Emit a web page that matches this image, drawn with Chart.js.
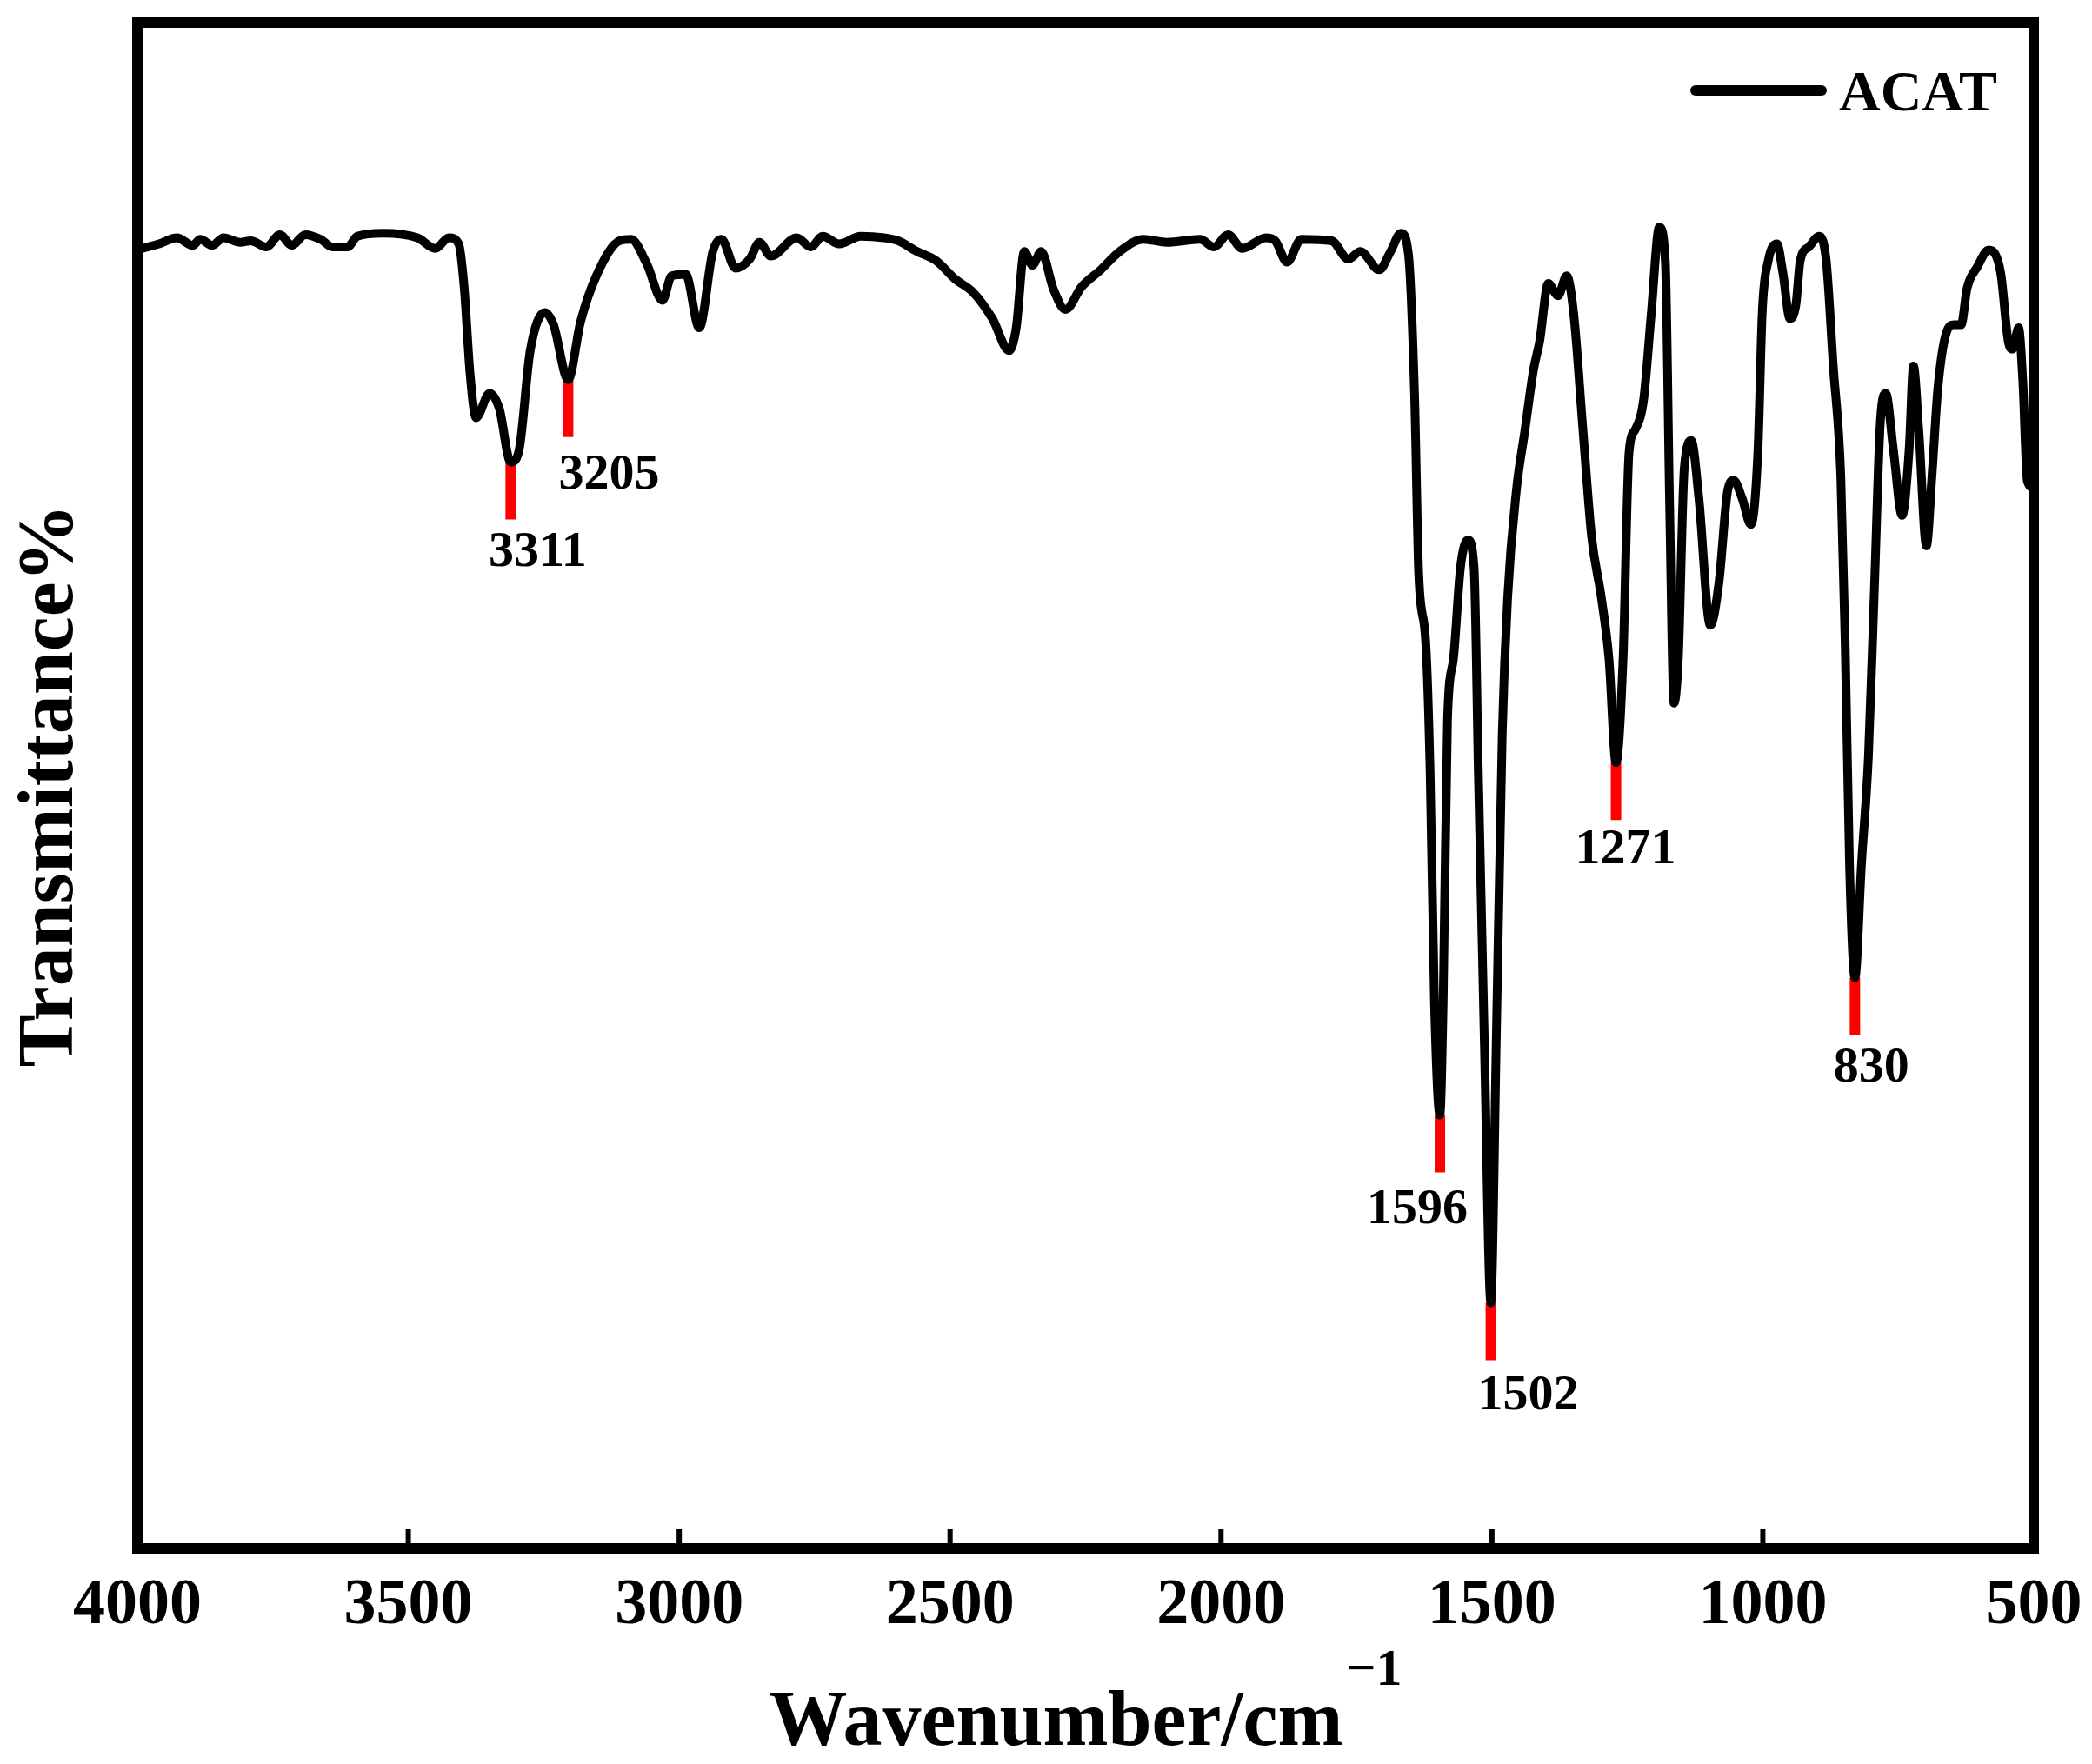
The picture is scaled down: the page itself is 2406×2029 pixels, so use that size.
<!DOCTYPE html>
<html>
<head>
<meta charset="utf-8">
<script src="https://cdn.jsdelivr.net/npm/chart.js@4.4.1/dist/chart.umd.min.js"></script>
<style>
  html, body { margin: 0; padding: 0; background: #ffffff; }
  #wrap { width: 2406px; height: 2029px; position: relative; }
</style>
</head>
<body>
<div id="wrap"><canvas id="c"></canvas></div>
<script>
// ---------------- DATA ----------------
const seriesName = 'ACAT';
const xTickValues = [4000, 3500, 3000, 2500, 2000, 1500, 1000, 500];
const xTickLabels = ['4000', '3500', '3000', '2500', '2000', '1500', '1000', '500'];

const wavenumbers = [
  4000, 3991, 3960, 3927, 3898, 3884, 3862, 3841, 3810, 3791, 3762, 3737, 3715, 3690, 3662, 3640, 3612, 3594, 3547, 3483,
  3450, 3425, 3407, 3397, 3386, 3375, 3350, 3332, 3311, 3296, 3275, 3248, 3232, 3205, 3182, 3153, 3110, 3089, 3060, 3031,
  3014, 2988, 2963, 2938, 2922, 2896, 2870, 2852, 2831, 2783, 2757, 2735, 2705, 2665, 2622, 2596, 2561, 2526, 2491, 2457,
  2422, 2391, 2378, 2363, 2348, 2332, 2309, 2287, 2257, 2222, 2187, 2143, 2100, 2039, 2013, 1987, 1961, 1917, 1900, 1878,
  1852, 1796, 1765, 1743, 1708, 1687, 1668, 1654, 1643, 1635, 1622, 1614, 1606, 1596, 1590, 1582, 1571, 1558, 1544, 1533,
  1525, 1514, 1502, 1492, 1481, 1471, 1455, 1439, 1423, 1412, 1396, 1378, 1362, 1349, 1332, 1316, 1298, 1284, 1271, 1258,
  1247, 1236, 1220, 1206, 1191, 1180, 1172, 1164, 1156, 1145, 1132, 1118, 1097, 1081, 1065, 1054, 1038, 1022, 1009, 1001,
  990, 974, 963, 950, 939, 931, 915, 896, 883, 870, 856, 848, 840, 830, 818, 805, 794, 783, 773, 759,
  743, 730, 722, 712, 698, 688, 677, 661, 647, 634, 623, 604, 583, 561, 547, 539, 528, 520, 512, 503, 500
];
const transmittance = [
  85.1, 85.2, 85.5, 85.9, 85.4, 85.8, 85.4, 85.9, 85.6, 85.7, 85.3, 86.1, 85.4, 86.1, 85.8, 85.3, 85.3, 86.0, 86.2, 85.9,
  85.2, 85.9, 85.5, 82.7, 77.0, 74.1, 75.7, 74.7, 71.2, 71.9, 78.5, 81.0, 80.2, 76.6, 80.4, 83.4, 85.7, 85.8, 84.2, 81.8,
  83.4, 83.5, 80.0, 85.0, 85.8, 83.9, 84.5, 85.6, 84.7, 85.9, 85.3, 86.0, 85.5, 86.0, 85.9, 85.7, 85.0, 84.4, 83.2, 82.3,
  80.6, 78.5, 80.0, 85.0, 84.1, 85.0, 82.5, 81.2, 82.7, 83.8, 85.0, 85.8, 85.6, 85.8, 85.3, 86.1, 85.2, 85.9, 85.7, 84.3,
  85.8, 85.7, 84.5, 85.0, 83.8, 85.0, 86.2, 84.8, 75.9, 63.8, 59.3, 50.8, 35.7, 28.4, 35.7, 54.3, 58.3, 64.3, 66.1, 64.3,
  50.8, 33.2, 16.1, 33.2, 53.3, 62.3, 69.3, 73.3, 77.3, 79.1, 82.9, 82.1, 83.4, 80.9, 73.3, 66.3, 62.3, 58.3, 51.5, 58.3,
  71.8, 73.3, 75.3, 80.9, 86.6, 84.4, 68.3, 55.4, 58.3, 70.8, 72.6, 68.8, 60.5, 63.3, 69.3, 70.0, 68.8, 67.1, 72.0, 81.1,
  84.4, 85.5, 83.6, 80.6, 81.5, 84.4, 85.3, 86.0, 84.4, 77.5, 70.2, 59.3, 44.8, 37.4, 44.8, 52.0, 63.0, 73.9, 75.7, 72.0,
  67.7, 72.0, 77.5, 73.2, 65.7, 70.2, 76.0, 79.7, 80.2, 80.2, 82.6, 84.0, 85.1, 83.6, 79.1, 78.6, 80.0, 76.4, 70.0, 69.5, 69.0
];

const peakWavenumbers = [3311, 3205, 1596, 1502, 1271, 830];
const peakValues      = [71.2, 76.6, 28.4, 16.1, 51.5, 37.4];
const peakLabels      = ['3311', '3205', '1596', '1502', '1271', '830'];

// ---------------- STYLE ----------------
const FONT = '"Liberation Serif", "Times New Roman", serif';
const labelDx  = [31, 47, -26, 43, 11, 19];   // label offset from marker (px)
const labelGap = [14, 19, 18, 17, 10, 13];
const markerLen = 66;

const points = wavenumbers.map((w, i) => ({ x: w, y: transmittance[i] }));

const decorPlugin = {
  id: 'decor',
  beforeDatasetsDraw(chart) {
    const ctx = chart.ctx, xs = chart.scales.x, ys = chart.scales.y;
    ctx.save();
    ctx.strokeStyle = '#ff0000';
    ctx.lineWidth = 12;
    ctx.lineCap = 'butt';
    peakWavenumbers.forEach((w, i) => {
      const px = xs.getPixelForValue(w), py = ys.getPixelForValue(peakValues[i]);
      ctx.beginPath(); ctx.moveTo(px, py); ctx.lineTo(px, py + markerLen); ctx.stroke();
    });
    ctx.restore();
  },
  afterDraw(chart) {
    const ctx = chart.ctx, xs = chart.scales.x, ys = chart.scales.y, a = chart.chartArea;
    ctx.save();
    // peak labels
    ctx.fillStyle = '#000';
    ctx.font = 'bold 58px ' + FONT;
    ctx.textAlign = 'center';
    ctx.textBaseline = 'alphabetic';
    peakWavenumbers.forEach((w, i) => {
      const px = xs.getPixelForValue(w), py = ys.getPixelForValue(peakValues[i]);
      ctx.fillText(peakLabels[i], px + labelDx[i], py + markerLen + labelGap[i] + 40);
    });
    // frame
    ctx.strokeStyle = '#000';
    ctx.lineWidth = 12;
    ctx.strokeRect(a.left, a.top, a.right - a.left, a.bottom - a.top);
    // inner ticks on bottom axis
    ctx.lineWidth = 6;
    xTickValues.forEach(v => {
      if (v === xs.min || v === xs.max) return;
      const px = xs.getPixelForValue(v);
      ctx.beginPath(); ctx.moveTo(px, a.bottom); ctx.lineTo(px, a.bottom - 22); ctx.stroke();
    });
    // x title with superscript
    const main = 'Wavenumber/cm', sup = '\u22121';
    ctx.font = 'bold 90px ' + FONT;
    const wMain = ctx.measureText(main).width;
    ctx.font = 'bold 60px ' + FONT;
    const wSup = ctx.measureText(sup).width;
    const total = wMain + 4 + wSup;
    const cx = (a.left + a.right) / 2;
    const sx = cx - total / 2;
    ctx.textAlign = 'left';
    ctx.font = 'bold 90px ' + FONT;
    ctx.fillText(main, sx, 2007);
    ctx.font = 'bold 60px ' + FONT;
    ctx.fillText(sup, sx + wMain + 4, 1938);
    // y title
    ctx.save();
    ctx.translate(83, (a.top + a.bottom) / 2);
    ctx.rotate(-Math.PI / 2);
    ctx.textAlign = 'center';
    ctx.font = 'bold 90px ' + FONT;
    ctx.fillText('Transmittance%', 0, 0);
    ctx.restore();
    // legend
    ctx.strokeStyle = '#000';
    ctx.lineWidth = 12;
    ctx.lineCap = 'round';
    ctx.beginPath(); ctx.moveTo(1950, 104); ctx.lineTo(2095, 104); ctx.stroke();
    ctx.textAlign = 'left';
    ctx.font = 'bold 66px ' + FONT;
    ctx.fillText(chart.data.datasets[0].label, 2115, 127);
    ctx.restore();
  }
};

new Chart(document.getElementById('c'), {
  type: 'line',
  data: {
    datasets: [{
      label: seriesName,
      data: points,
      borderColor: '#000000',
      borderWidth: 10,
      pointRadius: 0,
      fill: false,
      cubicInterpolationMode: 'monotone',
      borderJoinStyle: 'round',
      borderCapStyle: 'round'
    }]
  },
  options: {
    responsive: true,
    maintainAspectRatio: false,
    devicePixelRatio: 1,
    animation: false,
    layout: { padding: { left: 158, right: 67, top: 26, bottom: 0 } },
    plugins: { legend: { display: false }, tooltip: { enabled: false } },
    scales: {
      x: {
        type: 'linear',
        reverse: true,
        min: 500,
        max: 4000,
        border: { display: false },
        grid: { display: false, drawTicks: false },
        afterBuildTicks: (s) => { s.ticks = xTickValues.map(v => ({ value: v })); },
        afterFit: (s) => { s.height = 248; s.paddingLeft = 0; s.paddingRight = 0; },
        ticks: {
          padding: 22,
          color: '#000',
          maxRotation: 0,
          autoSkip: false,
          font: { family: FONT, size: 74, weight: 'bold' },
          callback: (v) => xTickLabels[xTickValues.indexOf(v)]
        }
      },
      y: {
        type: 'linear',
        min: 0,
        max: 100,
        display: false
      }
    }
  },
  plugins: [decorPlugin]
});
</script>
</body>
</html>
